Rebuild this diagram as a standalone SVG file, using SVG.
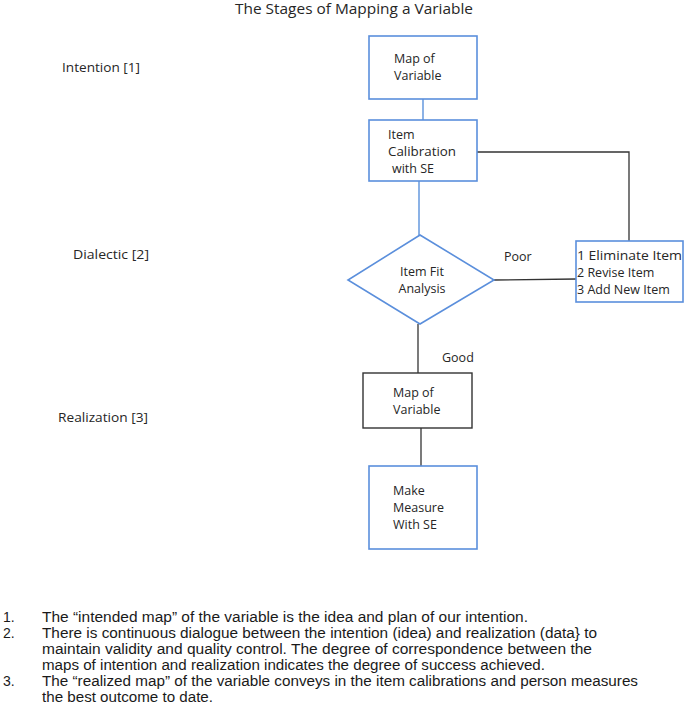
<svg xmlns="http://www.w3.org/2000/svg" width="685" height="708" viewBox="0 0 685 708">
<style>
text{font-family:"Open Sans","DejaVu Sans",sans-serif;fill:#262626;font-size:12.5px}
.title{font-size:14px}
.note{font-family:"Liberation Sans",Arial,sans-serif;font-size:14px;fill:#1a1a1a}
.blue{fill:#fff;stroke:#5b8fdc;stroke-width:1.6}
.black{fill:#fff;stroke:#333;stroke-width:1.4}
.cb{stroke:#6f9fe0;stroke-width:1.6;fill:none}
.ck{stroke:#333;stroke-width:1.3;fill:none}
</style>
<rect width="685" height="708" fill="#fff"/>
<text class="title" x="235" y="14" textLength="238" lengthAdjust="spacingAndGlyphs">The Stages of Mapping  a Variable</text>
<g id="labels">
<text x="62" y="72" textLength="78" lengthAdjust="spacingAndGlyphs">Intention [1]</text>
<text x="73" y="259" textLength="76" lengthAdjust="spacingAndGlyphs">Dialectic [2]</text>
<text x="58" y="422" textLength="90" lengthAdjust="spacingAndGlyphs">Realization [3]</text>
</g>
<g id="connectors">
<line class="cb" x1="423" y1="99" x2="423" y2="120"/>
<line class="cb" x1="419" y1="181" x2="419" y2="235"/>
<polyline class="ck" points="477,152 629,152 629,241"/>
<line class="ck" x1="494" y1="280" x2="576" y2="279"/>
<line class="ck" x1="418" y1="324" x2="418" y2="373"/>
<line class="ck" x1="421" y1="428" x2="421" y2="466"/>
<text x="504" y="261">Poor</text>
<text x="442" y="362">Good</text>
</g>
<g id="map1">
<rect class="blue" x="369" y="36" width="108" height="63"/>
<text x="394" y="63">Map of</text>
<text x="394" y="80">Variable</text>
</g>
<g id="calib">
<rect class="blue" x="369" y="120" width="108" height="61"/>
<text x="388" y="139">Item</text>
<text x="388" y="156" textLength="68" lengthAdjust="spacingAndGlyphs">Calibration</text>
<text x="392" y="173">with SE</text>
</g>
<g id="fit">
<polygon class="blue" points="420,235 494,280 420,324 348,280"/>
<text x="422" y="276" text-anchor="middle">Item Fit</text>
<text x="422" y="293" text-anchor="middle">Analysis</text>
</g>
<g id="actions">
<rect class="blue" x="576" y="241" width="107" height="61"/>
<text x="577" y="260" textLength="105" lengthAdjust="spacingAndGlyphs">1 Eliminate Item</text>
<text x="577" y="277">2 Revise Item</text>
<text x="577" y="294">3 Add New Item</text>
</g>
<g id="map2">
<rect class="black" x="363" y="373" width="109" height="55"/>
<text x="393" y="397">Map of</text>
<text x="393" y="414">Variable</text>
</g>
<g id="measure">
<rect class="blue" x="369" y="466" width="108" height="83"/>
<text x="393" y="495">Make</text>
<text x="393" y="512">Measure</text>
<text x="393" y="529">With SE</text>
</g>
<g id="notes">
<text class="note" x="3" y="622">1.</text>
<text class="note" x="42" y="622" textLength="486" lengthAdjust="spacingAndGlyphs">The “intended map” of the variable is the idea and plan of our intention.</text>
<text class="note" x="3" y="638">2.</text>
<text class="note" x="42" y="638" textLength="555" lengthAdjust="spacingAndGlyphs">There is continuous dialogue between the intention (idea) and realization (data} to</text>
<text class="note" x="42" y="654" textLength="550" lengthAdjust="spacingAndGlyphs">maintain validity and quality control.  The degree of correspondence between the</text>
<text class="note" x="42" y="670" textLength="503" lengthAdjust="spacingAndGlyphs">maps of intention and realization indicates the degree of success achieved.</text>
<text class="note" x="3" y="686">3.</text>
<text class="note" x="42" y="686" textLength="596" lengthAdjust="spacingAndGlyphs">The “realized map” of the variable conveys in the item calibrations and person measures</text>
<text class="note" x="42" y="702" textLength="171" lengthAdjust="spacingAndGlyphs">the best outcome to date.</text>
</g>
</svg>
